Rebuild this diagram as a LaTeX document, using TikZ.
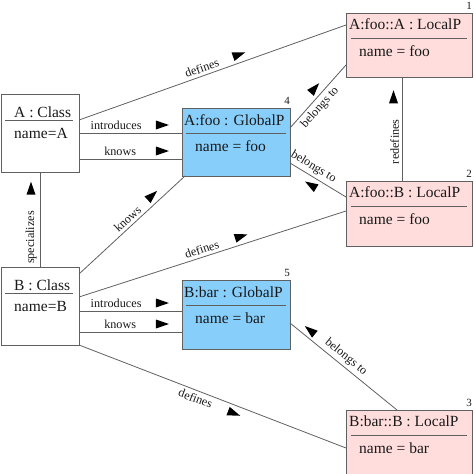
\documentclass[tikz,border=0pt]{standalone}
\usepackage{fontspec}
\setmainfont{Liberation Serif}
\usetikzlibrary{decorations.markings}
\definecolor{pinkfill}{RGB}{255,221,221}
\definecolor{bluefill}{RGB}{135,206,250}
\definecolor{edgegray}{RGB}{96,96,96}
\definecolor{txt}{RGB}{25,25,25}
\tikzset{
  box/.style={draw=edgegray, line width=0.8pt, inner sep=0pt, outer sep=0pt},
  classbox/.style={box, fill=white, minimum width=78pt, minimum height=78pt},
  globalbox/.style={box, fill=bluefill, minimum width=108pt},
  localbox/.style={box, fill=pinkfill, minimum width=126pt},
  ttl/.style={font=\fontsize{15.5}{18}\selectfont, text=txt, inner sep=0pt, anchor=base west},
  num/.style={font=\fontsize{11}{13}\selectfont, text=txt, inner sep=0pt, anchor=base east},
  sepline/.style={draw=edgegray, line width=0.8pt},
  conn/.style={draw=edgegray, line width=0.8pt},
  lbl/.style={font=\fontsize{12.2}{14}\selectfont, text=txt, inner sep=3pt, sloped},
  tri/.style 2 args={postaction={decorate, decoration={markings,
      mark=at position #1 with {\fill[black] (-6.5pt,#2+4.5pt) -- (6.5pt,#2) -- (-6.5pt,#2-4.5pt) -- cycle;}}}}
}
\begin{document}
\begin{tikzpicture}[x=1pt,y=-1pt]
\useasboundingbox (0,0) rectangle (474,474);

% ---- boxes ----
\node[classbox] (A) at (40,133) {};
\node[classbox] (B) at (40,306) {};
\node[globalbox, minimum height=68pt] (GA) at (236,142) {};
\node[globalbox, minimum height=69pt] (GB) at (236,314.5) {};
\node[localbox, minimum height=64pt] (LP1) at (409,45) {};
\node[localbox, minimum height=65pt] (LP2) at (409,213.5) {};
\node[localbox, minimum height=66pt] (LP3) at (409,443) {};

% ---- class boxes contents ----
\node[ttl] (At) at ([xshift=13pt,yshift=-23pt]A.north west) {A : Class};
\draw[sepline] ([xshift=4pt,yshift=-26pt]A.north west) -- ([xshift=-6pt,yshift=-26pt]A.north east);
\node[ttl] (Aa) at ([xshift=13pt,yshift=-44pt]A.north west) {name=A};

\node[ttl] (Bt) at ([xshift=13pt,yshift=-23pt]B.north west) {B : Class};
\draw[sepline] ([xshift=4pt,yshift=-26pt]B.north west) -- ([xshift=-6pt,yshift=-26pt]B.north east);
\node[ttl] (Ba) at ([xshift=13pt,yshift=-44pt]B.north west) {name=B};

% ---- global boxes ----
\node[ttl] (GAt) at ([xshift=2pt,yshift=-17pt]GA.north west) {A:foo : GlobalP};
\draw[sepline] ([xshift=4pt,yshift=-25pt]GA.north west) -- ([xshift=-4pt,yshift=-25pt]GA.north east);
\node[ttl] (GAa) at ([xshift=13pt,yshift=-43.5pt]GA.north west) {name = foo};
\node[num] (n4) at ([yshift=4pt]GA.north east) {4};

\node[ttl] (GBt) at ([xshift=2pt,yshift=-17pt]GB.north west) {B:bar : GlobalP};
\draw[sepline] ([xshift=4pt,yshift=-25pt]GB.north west) -- ([xshift=-4pt,yshift=-25pt]GB.north east);
\node[ttl] (GBa) at ([xshift=13pt,yshift=-43.5pt]GB.north west) {name = bar};
\node[num] (n5) at ([yshift=4pt]GB.north east) {5};

% ---- local boxes ----
\node[ttl] (L1t) at ([xshift=3pt,yshift=-16.5pt]LP1.north west) {A:foo::A : LocalP};
\draw[sepline] ([xshift=5pt,yshift=-25pt]LP1.north west) -- ([xshift=-5pt,yshift=-25pt]LP1.north east);
\node[ttl] (L1a) at ([xshift=13pt,yshift=-43pt]LP1.north west) {name = foo};
\node[num] (n1) at ([yshift=4pt]LP1.north east) {1};

\node[ttl] (L2t) at ([xshift=3pt,yshift=-16.5pt]LP2.north west) {A:foo::B : LocalP};
\draw[sepline] ([xshift=5pt,yshift=-25pt]LP2.north west) -- ([xshift=-5pt,yshift=-25pt]LP2.north east);
\node[ttl] (L2a) at ([xshift=13pt,yshift=-43pt]LP2.north west) {name = foo};
\node[num] (n2) at ([yshift=4pt]LP2.north east) {2};

\node[ttl] (L3t) at ([xshift=3pt,yshift=-16.5pt]LP3.north west) {B:bar::B : LocalP};
\draw[sepline] ([xshift=5pt,yshift=-25pt]LP3.north west) -- ([xshift=-5pt,yshift=-25pt]LP3.north east);
\node[ttl] (L3a) at ([xshift=13pt,yshift=-43pt]LP3.north west) {name = bar};
\node[num] (n3) at ([yshift=4pt]LP3.north east) {3};

% ---- connectors from A ----
\draw[conn, tri={0.61}{8pt}] ([yshift=13pt]A.east) -- node[lbl, pos=0.47, above] {defines} ([yshift=20pt]LP1.west);
\draw[conn, tri={0.81}{8pt}] (A.east) -- node[lbl, pos=0.36, above] {introduces} (A.east -| GA.west);
\draw[conn, tri={0.81}{8pt}] ([yshift=-26pt]A.east) -- node[lbl, pos=0.40, above] {knows} ([yshift=-26pt]A.east -| GA.west);

% ---- specializes ----
\draw[conn, tri={0.83}{9pt}] (B.north) -- node[lbl, pos=0.31, above, allow upside down] {specializes} (A.south);

% ---- connectors from B ----
\draw[conn, tri={0.743}{8pt}] ([yshift=-7pt]B.north east) -- node[lbl, pos=0.507, above] {knows} ([xshift=3pt]GA.south west);
\draw[conn, tri={0.617}{8pt}] ([yshift=9pt]B.east) -- node[lbl, pos=0.469, above] {defines} ([yshift=2.5pt]LP2.west);
\draw[conn, tri={0.81}{8pt}] ([yshift=-5pt]B.east) -- node[lbl, pos=0.36, above] {introduces} ([yshift=-5pt]B.east -| GB.west);
\draw[conn, tri={0.81}{8pt}] ([yshift=-26pt]B.east) -- node[lbl, pos=0.40, above] {knows} ([yshift=-26pt]B.east -| GB.west);
\draw[conn, tri={0.592}{-8pt}] (B.south east) -- node[lbl, pos=0.447, below] {defines} ([yshift=-5pt]LP3.west);

% ---- belongs to / redefines ----
\draw[conn, tri={0.55}{8pt}] ([yshift=14pt]GA.east) -- node[lbl, pos=0.418, below] {belongs to} ([yshift=-20pt]LP1.west);
\draw[conn, tri={0.558}{8pt}] ([yshift=16.5pt]LP2.west) -- node[lbl, pos=0.665, above] {belongs to} ([yshift=-21pt]GA.east);
\draw[conn, tri={0.81}{9pt}] ([xshift=-6.5pt]LP2.north) -- node[lbl, pos=0.378, above, allow upside down] {redefines} ([xshift=-6.5pt]LP1.south);
\draw[conn, tri={0.856}{-7pt}] ([xshift=-12pt]LP3.north) -- node[lbl, pos=0.53, above] {belongs to} ([yshift=-8.5pt]GB.east);
\end{tikzpicture}
\end{document}
